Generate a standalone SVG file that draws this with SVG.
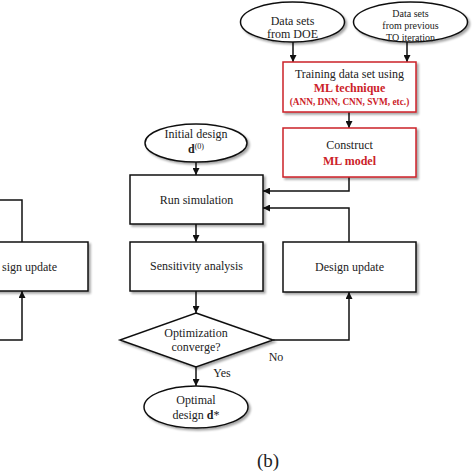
<svg xmlns="http://www.w3.org/2000/svg" width="474" height="474" viewBox="0 0 474 474">
<defs>
<marker id="ah" viewBox="0 0 10 10" refX="10" refY="5" markerWidth="7" markerHeight="7" markerUnits="userSpaceOnUse" orient="auto">
<path d="M0,0 L10,5 L0,10 z" fill="#111"/>
</marker>
<filter id="sh" x="-10%" y="-10%" width="130%" height="140%">
<feDropShadow dx="2" dy="2" stdDeviation="1.2" flood-color="#000" flood-opacity="0.35"/>
</filter>
</defs>
<style>
.box{fill:#fff;stroke:#111;stroke-width:1.5;filter:url(#sh)}
.rbox{fill:#fff;stroke:#cc2229;stroke-width:1.5;filter:url(#sh)}
.ell{fill:#fff;stroke:#111;stroke-width:1.5;filter:url(#sh)}
.ln{fill:none;stroke:#111;stroke-width:1.5}
.ar{fill:none;stroke:#111;stroke-width:1.5;marker-end:url(#ah)}
text{font-family:"Liberation Serif","Times New Roman",serif;fill:#222;text-anchor:middle}
.t{font-size:12px}
.s{font-size:10px}
.r{fill:#cc2229;font-weight:bold}
</style>
<rect width="474" height="474" fill="#fff"/>
<g id="connectors">
<path class="ar" d="M293,42 V62"/>
<path class="ar" d="M407,42 V62"/>
<path class="ar" d="M349,112 V128"/>
<path class="ar" d="M349,177 V191 H263"/>
<path class="ar" d="M349,242 V208 H263"/>
<path class="ar" d="M196,162 V175"/>
<path class="ar" d="M196,224 V242"/>
<path class="ar" d="M196,291 V313"/>
<path class="ar" d="M273,340 H349 V292"/>
<path class="ar" d="M196,367 V386"/>
<path class="ln" d="M0,200 H22 V242"/>
<path class="ar" d="M0,340 H22 V291"/>
<text class="t" x="276" y="361">No</text>
<text class="t" x="222" y="377">Yes</text>
</g>
<g id="doe">
<ellipse class="ell" cx="292.5" cy="22" rx="52" ry="20"/>
<text class="t" x="292.5" y="25">Data sets</text>
<text class="t" x="292.5" y="38">from DOE</text>
</g>
<g id="prev">
<ellipse class="ell" cx="410.5" cy="22" rx="57" ry="20"/>
<text class="s" x="410.5" y="17">Data sets</text>
<text class="s" x="410.5" y="29">from previous</text>
<text class="s" x="410.5" y="41">TO iteration</text>
</g>
<g id="training">
<rect class="rbox" x="283" y="62" width="133" height="50"/>
<text class="t" x="349.5" y="78">Training data set using</text>
<text class="t r" x="349.5" y="92">ML technique</text>
<text class="r" x="349.5" y="105" style="font-size:9.3px">(ANN, DNN, CNN, SVM, etc.)</text>
</g>
<g id="construct">
<rect class="rbox" x="283" y="128" width="133" height="49"/>
<text class="t" x="349.5" y="149">Construct</text>
<text class="t r" x="349.5" y="165">ML model</text>
</g>
<g id="initial">
<ellipse class="ell" cx="196" cy="143" rx="51" ry="19"/>
<text class="t" x="196" y="138">Initial design</text>
<text class="t" x="196" y="153"><tspan font-weight="bold">d</tspan><tspan font-size="8" dy="-4">(0)</tspan></text>
</g>
<g id="run">
<rect class="box" x="130" y="175" width="133" height="49"/>
<text class="t" x="196.5" y="204">Run simulation</text>
</g>
<g id="sens">
<rect class="box" x="130" y="242" width="133" height="49"/>
<text class="t" x="196.5" y="270">Sensitivity analysis</text>
</g>
<g id="update">
<rect class="box" x="283" y="242" width="133" height="50"/>
<text class="t" x="349.5" y="271">Design update</text>
</g>
<g id="update-left">
<rect class="box" x="-50" y="242" width="138" height="49"/>
<text class="t" x="57" y="271" style="text-anchor:end">sign update</text>
</g>
<g id="converge">
<polygon class="box" points="196,313 273,340 196,367 120,340"/>
<text class="t" x="196" y="337">Optimization</text>
<text class="t" x="196" y="351">converge?</text>
</g>
<g id="optimal">
<ellipse class="ell" cx="196" cy="407" rx="52" ry="21"/>
<text class="t" x="196" y="404">Optimal</text>
<text class="t" x="196" y="419">design <tspan font-weight="bold">d</tspan>*</text>
</g>
<text x="268" y="467" style="font-size:19px">(b)</text>
</svg>
